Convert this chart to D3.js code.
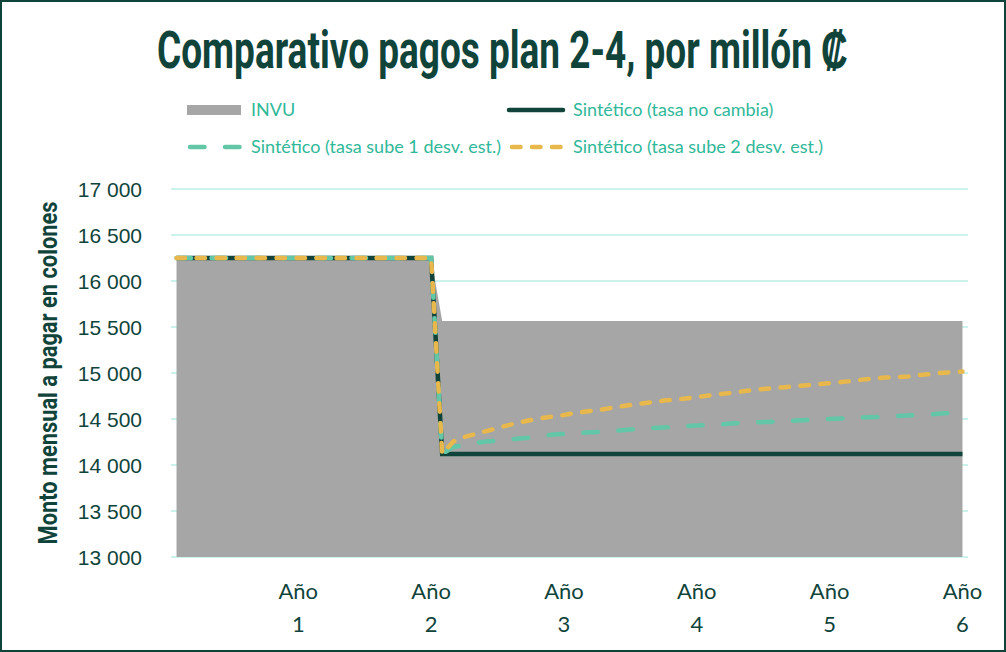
<!DOCTYPE html>
<html>
<head>
<meta charset="utf-8">
<script src="https://cdn.jsdelivr.net/npm/d3@7"></script>
<style>
body{margin:0;background:#fff;}
svg{display:block;}
</style>
</head>
<body>
<div id="chart"></div>
<script>
// monthly categories, 6 years
var months = [1,2,3,4,5,6,7,8,9,10,11,12,13,14,15,16,17,18,19,20,21,22,23,24,
  25,26,27,28,29,30,31,32,33,34,35,36,37,38,39,40,41,42,43,44,45,46,47,48,
  49,50,51,52,53,54,55,56,57,58,59,60,61,62,63,64,65,66,67,68,69,70,71,72];
var yearTicks = [12,24,36,48,60,72];
var yearLabels = ["Año 1","Año 2","Año 3","Año 4","Año 5","Año 6"];
var yTicks = [13000,13500,14000,14500,15000,15500,16000,16500,17000];

var invu = [16250,16250,16250,16250,16250,16250,16250,16250,16250,16250,16250,16250,
  16250,16250,16250,16250,16250,16250,16250,16250,16250,16250,16250,16250,
  15565,15565,15565,15565,15565,15565,15565,15565,15565,15565,15565,15565,
  15565,15565,15565,15565,15565,15565,15565,15565,15565,15565,15565,15565,
  15565,15565,15565,15565,15565,15565,15565,15565,15565,15565,15565,15565,
  15565,15565,15565,15565,15565,15565,15565,15565,15565,15565,15565,15565];
var sinCambio = [16250,16250,16250,16250,16250,16250,16250,16250,16250,16250,16250,16250,
  16250,16250,16250,16250,16250,16250,16250,16250,16250,16250,16250,16250,
  14120,14120,14120,14120,14120,14120,14120,14120,14120,14120,14120,14120,
  14120,14120,14120,14120,14120,14120,14120,14120,14120,14120,14120,14120,
  14120,14120,14120,14120,14120,14120,14120,14120,14120,14120,14120,14120,
  14120,14120,14120,14120,14120,14120,14120,14120,14120,14120,14120,14120];
var sube1 = [16250,16250,16250,16250,16250,16250,16250,16250,16250,16250,16250,16250,
  16250,16250,16250,16250,16250,16250,16250,16250,16250,16250,16250,16250,
  14120,14196,14217,14239,14255,14266,14277,14288,14299,14315,14331,14337,
  14342,14353,14359,14369,14375,14386,14396,14402,14407,14413,14424,14429,
  14434,14440,14451,14456,14462,14467,14472,14478,14483,14489,14494,14500,
  14505,14510,14516,14521,14527,14532,14537,14543,14548,14559,14565,14570];
var sube2 = [16250,16250,16250,16250,16250,16250,16250,16250,16250,16250,16250,16250,
  16250,16250,16250,16250,16250,16250,16250,16250,16250,16250,16250,16250,
  14120,14255,14304,14337,14369,14402,14434,14462,14489,14510,14527,14543,
  14565,14581,14597,14614,14635,14652,14668,14684,14700,14711,14722,14738,
  14754,14771,14782,14798,14814,14826,14836,14846,14857,14868,14879,14890,
  14901,14912,14928,14939,14950,14955,14961,14977,14988,15000,15008,15015];

var dark = "#10443b", teal = "#62c6a7", gold = "#e8b84c", gray = "#a6a6a6",
    grid = "#ccf2ec", legendText = "#2fb899";

var W = 1006, H = 652;
var plot = {left:171, right:968, top:189, bottom:557};

var svg = d3.select("#chart").append("svg")
  .attr("width", W).attr("height", H);

svg.append("rect").attr("x",1).attr("y",1).attr("width",W-2).attr("height",H-2)
  .attr("fill","#fff").attr("stroke",dark).attr("stroke-width",2);

var x = d3.scalePoint().domain(months).range([plot.left, plot.right]).padding(0.5);
var y = d3.scaleLinear().domain([13000,17000]).range([plot.bottom, plot.top]);
var fmt = d3.formatLocale({decimal:",", thousands:" ", grouping:[3], currency:["",""]}).format(",d");

// squeeze a text horizontally to a given width (condensed look)
function squeeze(sel, width){
  var w = sel.node().getComputedTextLength();
  return width / w;
}

// gridlines
svg.append("g").selectAll("line").data(yTicks).enter().append("line")
  .attr("x1", plot.left).attr("x2", plot.right)
  .attr("y1", function(d){ return y(d); }).attr("y2", function(d){ return y(d); })
  .attr("stroke", grid).attr("stroke-width", 2);

// y tick labels
svg.append("g").selectAll("text").data(yTicks).enter().append("text")
  .text(function(d){ return fmt(d); })
  .attr("x", 142).attr("y", function(d){ return y(d); })
  .attr("dy", "0.36em").attr("text-anchor","end")
  .attr("font-family","Liberation Sans, Arial, sans-serif").attr("font-size","21px")
  .attr("fill", dark);

// x labels, two lines each
var xl = svg.append("g").selectAll("text").data(yearTicks).enter().append("text")
  .attr("text-anchor","middle")
  .attr("font-family","Lato, sans-serif").attr("font-size","22px").attr("fill", dark);
xl.append("tspan").attr("x", function(d){ return x(d); }).attr("y", 599)
  .text(function(d,i){ return yearLabels[i].split(" ")[0]; });
xl.append("tspan").attr("x", function(d){ return x(d); }).attr("y", 632)
  .text(function(d,i){ return yearLabels[i].split(" ")[1]; });

// INVU area
var area = d3.area().x(function(d,i){ return x(months[i]); })
  .y0(y(13000)).y1(function(d){ return y(d); });
svg.append("path").datum(invu).attr("d", area).attr("fill", gray);

var line = d3.line().x(function(d,i){ return x(months[i]); }).y(function(d){ return y(d); });
svg.append("path").datum(sinCambio).attr("d", line).attr("fill","none")
  .attr("stroke", dark).attr("stroke-width", 4.5);
svg.append("path").datum(sube1).attr("d", line).attr("fill","none")
  .attr("stroke", teal).attr("stroke-width", 4.5).attr("stroke-linecap","round")
  .attr("stroke-dasharray","14.5 20.5");
svg.append("path").datum(sube2).attr("d", line).attr("fill","none")
  .attr("stroke", gold).attr("stroke-width", 4.5).attr("stroke-linecap","round")
  .attr("stroke-dasharray","8.5 11.5");

// title
var title = svg.append("text").text("Comparativo pagos plan 2-4, por millón ₡")
  .attr("font-family","Roboto, sans-serif").attr("font-weight","bold").attr("font-size","52px")
  .attr("fill", dark);
var sx = squeeze(title, 691);
title.attr("transform","translate(157,68) scale("+sx+",1)");

// y axis title
var ytitle = svg.append("text").text("Monto mensual a pagar en colones")
  .attr("text-anchor","middle")
  .attr("font-family","Roboto, sans-serif").attr("font-weight","bold").attr("font-size","25px")
  .attr("fill", dark);
var sy = squeeze(ytitle, 343);
ytitle.attr("transform","translate(57,373) rotate(-90) scale("+sy+",1)");

// legend
var legend = [
  {name:"INVU", kind:"area", x:187, y:110},
  {name:"Sintético (tasa no cambia)", kind:"solid", x:509, y:110},
  {name:"Sintético (tasa sube 1 desv. est.)", kind:"dash1", x:187, y:147},
  {name:"Sintético (tasa sube 2 desv. est.)", kind:"dash2", x:509, y:147}
];
var lg = svg.append("g").selectAll("g").data(legend).enter().append("g")
  .attr("transform", function(d){ return "translate("+d.x+","+d.y+")"; });
lg.each(function(d){
  var g = d3.select(this);
  if(d.kind == "area"){
    g.append("rect").attr("x",0).attr("y",-5).attr("width",54).attr("height",10).attr("fill",gray);
  } else if(d.kind == "solid"){
    g.append("line").attr("x1",0).attr("x2",54).attr("stroke",dark).attr("stroke-width",4.5)
      .attr("stroke-linecap","round");
  } else if(d.kind == "dash1"){
    g.append("line").attr("x1",3).attr("x2",54).attr("stroke",teal).attr("stroke-width",4.5)
      .attr("stroke-linecap","round").attr("stroke-dasharray","14.5 20.5");
  } else {
    g.append("line").attr("x1",3).attr("x2",54).attr("stroke",gold).attr("stroke-width",4.5)
      .attr("stroke-linecap","round").attr("stroke-dasharray","8.5 11.5");
  }
  g.append("text").text(d.name).attr("x",64).attr("dy","0.35em")
    .attr("font-family","Lato, sans-serif").attr("font-size","18px").attr("fill",legendText);
});
</script>
</body>
</html>
